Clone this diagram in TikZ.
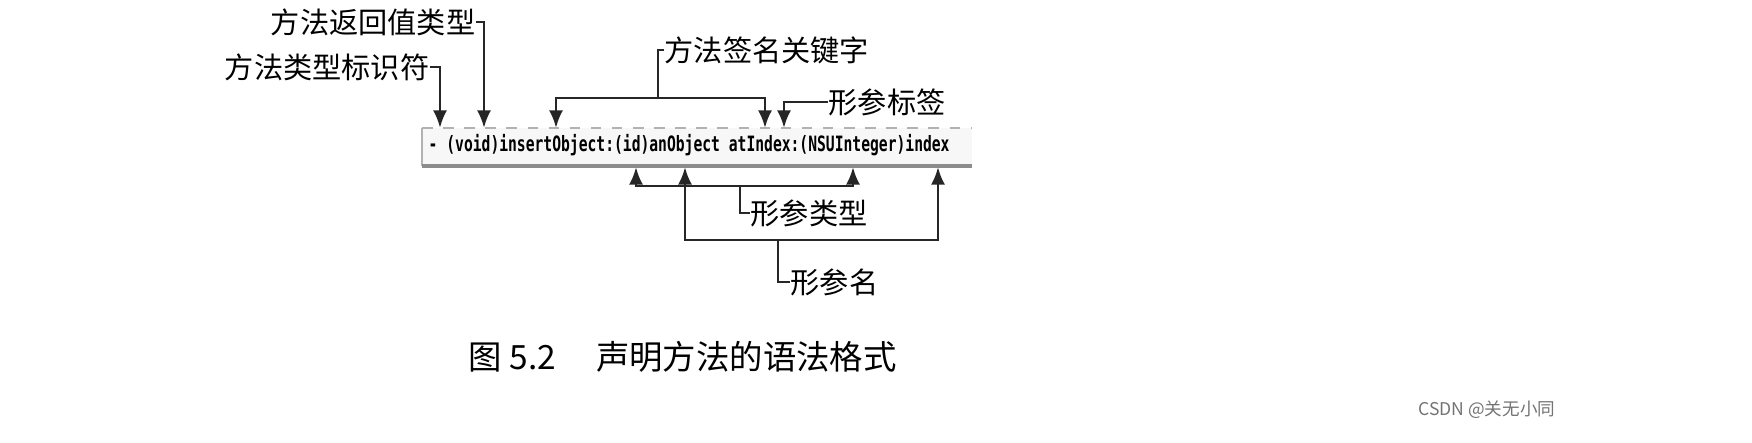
\documentclass[tikz,border=0pt]{standalone}
\usepackage{fontspec}
\newfontfamily\cjk{Noto Sans CJK SC}
\newfontfamily\code{DejaVu Sans Mono}
\usetikzlibrary{arrows.meta}
\begin{document}
\begin{tikzpicture}[x=0.01cm,y=-0.01cm,
  lbl/.style={font=\cjk\fontsize{8.3pt}{9pt}\selectfont,inner sep=0pt},
  conn/.style={line width=0.8pt,black!85},
  arr/.style={conn,-{Latex[length=5pt,width=4pt]}}]
\useasboundingbox (0,0) rectangle (1752,442);
% box
\fill[black!3] (422,128) rectangle (972,166);
\draw[black!30,dashed] (422,128) -- (972,128);
\draw[black!30] (422,128) -- (422,166);
\draw[black!45,line width=1.4pt] (422,166) -- (972,166);
\node[inner sep=0pt,anchor=west] (code) at (428,145) {\code\bfseries\fontsize{6pt}{7pt}\selectfont\scalebox{0.695}[1]{- (void)insertObject:(id)anObject atIndex:(NSUInteger)index}};
% top labels
\node[lbl,anchor=east] (t1) at (430,67) {方法类型标识符};
\node[lbl,anchor=east] (t2) at (476,22) {方法返回值类型};
\node[lbl,anchor=west] (t3) at (664,50) {方法签名关键字};
\node[lbl,anchor=west] (t4) at (828,102) {形参标签};
\coordinate (a1) at (440,128);
\coordinate (a2) at (484,128);
\coordinate (a3) at (556,128);
\coordinate (a4) at (765,128);
\coordinate (a5) at (784,128);
\draw[arr] (t1.east) -| (a1);
\draw[arr] (t2.east) -| (a2);
\coordinate (j3) at (658,98);
\draw[conn] (t3.west) -| (j3);
\draw[arr] (j3) -| (a3);
\draw[arr] (j3) -| (a4);
\draw[arr] (t4.west) -| (a5);
% bottom labels
\node[lbl,anchor=west] (b1) at (750,213) {形参类型};
\node[lbl,anchor=west] (b2) at (790,282) {形参名};
\coordinate (c1) at (636,167);
\coordinate (c2) at (853,167);
\coordinate (c3) at (685,167);
\coordinate (c4) at (938,167);
\coordinate (k1) at (740,186);
\coordinate (k2) at (778,240);
\draw[conn] (b1.west) -| (k1);
\draw[arr] (k1) -| (c1);
\draw[arr] (k1) -| (c2);
\draw[conn] (b2.west) -| (k2);
\draw[arr] (k2) -| (c3);
\draw[arr] (k2) -| (c4);
% caption
\node[inner sep=0pt,anchor=west,font=\cjk\fontsize{9.5pt}{11pt}\selectfont] (cap) at (468,357) {图 5.2\hspace{1.2em}声明方法的语法格式};
\node[inner sep=0pt,anchor=east,font=\cjk\fontsize{5pt}{6pt}\selectfont,text=black!55] (wm) at (1556,410) {CSDN @关无小同};
\end{tikzpicture}
\end{document}
